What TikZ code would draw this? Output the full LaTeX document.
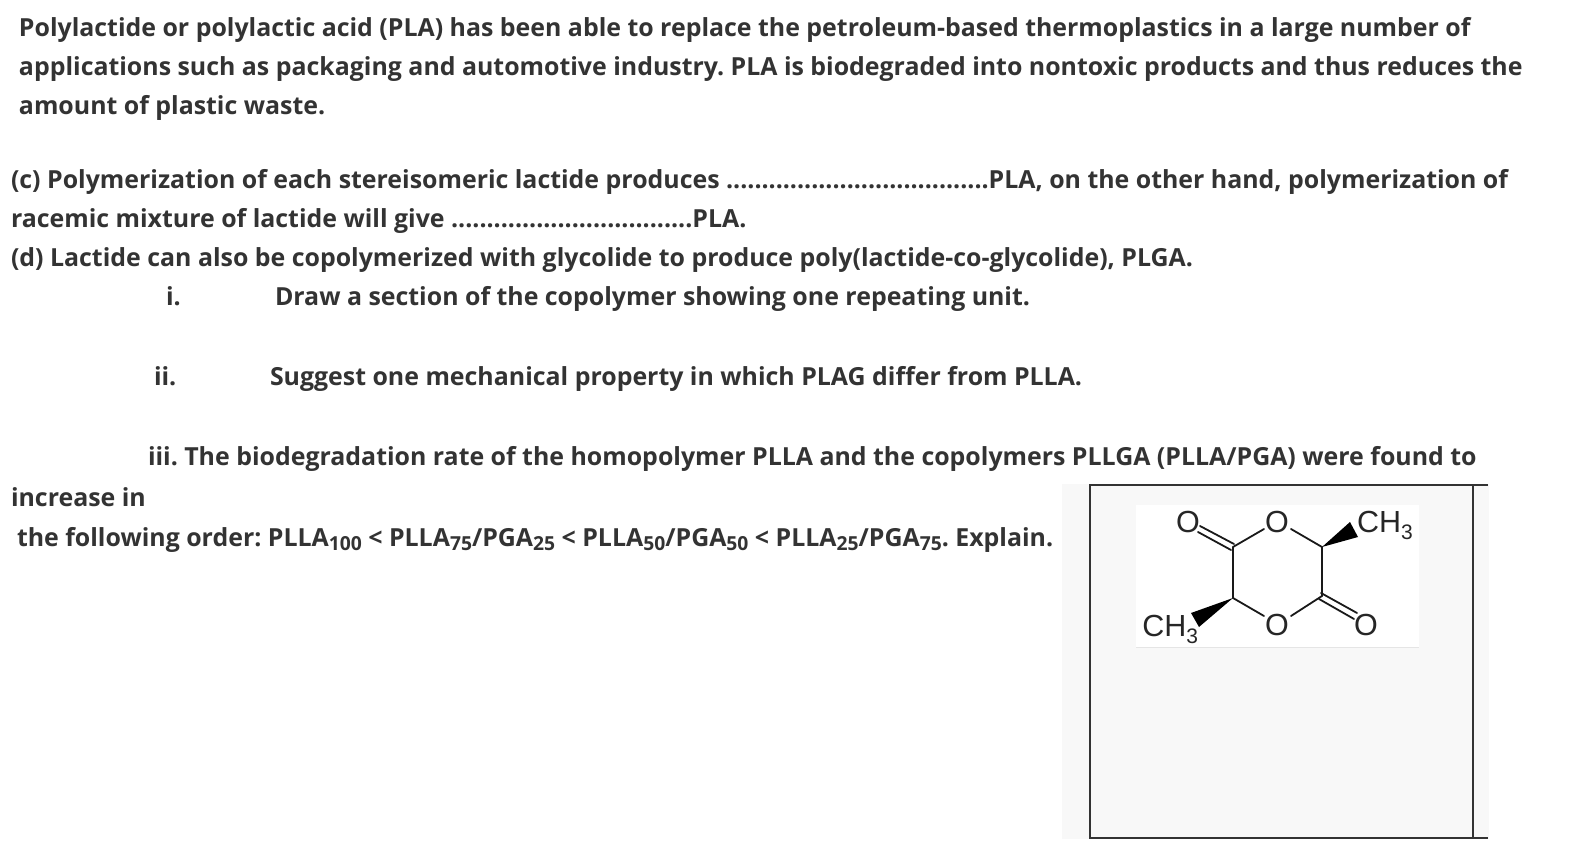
\documentclass[tikz,border=0pt]{standalone}
\usepackage{fontspec}
\setmainfont{Open Sans}
\newfontfamily\molfont{Liberation Sans}
\definecolor{ink}{HTML}{333333}
\definecolor{panel}{HTML}{F8F8F8}
\newcommand{\sbs}[1]{\raisebox{-0.2em}{\fontsize{19.3}{22}\selectfont #1}}
\newcommand{\msb}[1]{\raisebox{-0.24em}{\fontsize{21}{22}\selectfont #1}}
\tikzset{
  para/.style={anchor=base west,inner sep=0pt,outer sep=0pt,text=ink,font=\fontsize{24.9}{30}\selectfont\bfseries},
  atom/.style={inner sep=0pt,outer sep=0pt,text=black!85,font=\molfont\fontsize{30.500}{32}\selectfont},
  bond/.style={line width=1.8pt,draw=black!90,line cap=round},
  frameline/.style={line width=1.2pt,draw=black!80},
}
\begin{document}
\frenchspacing
\begin{tikzpicture}[x=1pt,y=-1pt]
\useasboundingbox (0,0) rectangle (1596,850);
\fill[white] (0,0) rectangle (1596,850);
\node[para] (l1) at (19,37) {\frenchspacing Polylactide or polylactic acid (PLA) has been able to replace the petroleum-based thermoplastics in a large number of};
\node[para] (l2) at (19,76) {\frenchspacing applications such as packaging and automotive industry. PLA is biodegraded into nontoxic products and thus reduces the};
\node[para] (l3) at (19,115) {amount of plastic waste.};
\node[para] (l4) at (11,189) {\frenchspacing (c) Polymerization of each stereisomeric lactide produces .....................................PLA, on the other hand, polymerization of};
\node[para] (l5) at (11,228) {racemic mixture of lactide will give ..................................PLA.};
\node[para] (l6) at (11,267) {(d) Lactide can also be copolymerized with glycolide to produce poly(lactide-co-glycolide), PLGA.};
\node[para] (l7a) at (166,306) {i.};
\node[para] (l7b) at (275,306) {Draw a section of the copolymer showing one repeating unit.};
\node[para] (l8a) at (154,385) {ii.};
\node[para] (l8b) at (270,385) {Suggest one mechanical property in which PLAG differ from PLLA.};
\node[para] (l9) at (148,465) {\frenchspacing iii. The biodegradation rate of the homopolymer PLLA and the copolymers PLLGA (PLLA/PGA) were found to};
\node[para] (l10) at (11,506) {increase in};
% panel
\fill[panel] (1062,484) rectangle (1489,839);
\node[para] (l11) at (17,546) {\frenchspacing the following order: PLLA\sbs{100} < PLLA\sbs{75}/PGA\sbs{25} < PLLA\sbs{50}/PGA\sbs{50} < PLLA\sbs{25}/PGA\sbs{75}. Explain.};
\draw[frameline] (1488,485) -- (1090,485) -- (1090,838) -- (1488,838);
\draw[frameline] (1473,485) -- (1473,838);
\fill[white] (1136,505) rectangle (1419,647);
\draw[black!10,line width=0.6pt] (1136,647.500) -- (1419,647.500);
% molecule
\node[atom] (o1) at (1188,522) {O};
\node[atom] (o2) at (1277,522) {O};
\node[atom] (o3) at (1277,625) {O};
\node[atom] (o4) at (1366,625) {O};
\node[atom,anchor=base west] (me1) at (1357,532) {CH\msb{3}};
\node[atom,anchor=base east] (me2) at (1198,636) {CH\msb{3}};
\coordinate (c1) at (1233,547);
\coordinate (c2) at (1322,547);
\coordinate (c3) at (1322,596);
\coordinate (c4) at (1233,598);
\draw[bond] (c1) -- (c4);
\draw[bond] (c2) -- (c3);
\draw[bond] (c1) -- (1264,529);
\draw[bond] (1291,529) -- (c2);
\draw[bond] (c4) -- (1264,616);
\draw[bond] (1291,616) -- (c3);
\draw[bond] (1200,526) -- (1234,544);
\draw[bond] (1198,532) -- (1231,550);
\draw[bond] (1321,593) -- (1357,613);
\draw[bond] (1319,599) -- (1354,619);
\fill[black] (c2) -- (1350,522) -- (1358,537) -- cycle;
\fill[black] (c4) -- (1191,613) -- (1199,627) -- cycle;
\end{tikzpicture}
\end{document}
